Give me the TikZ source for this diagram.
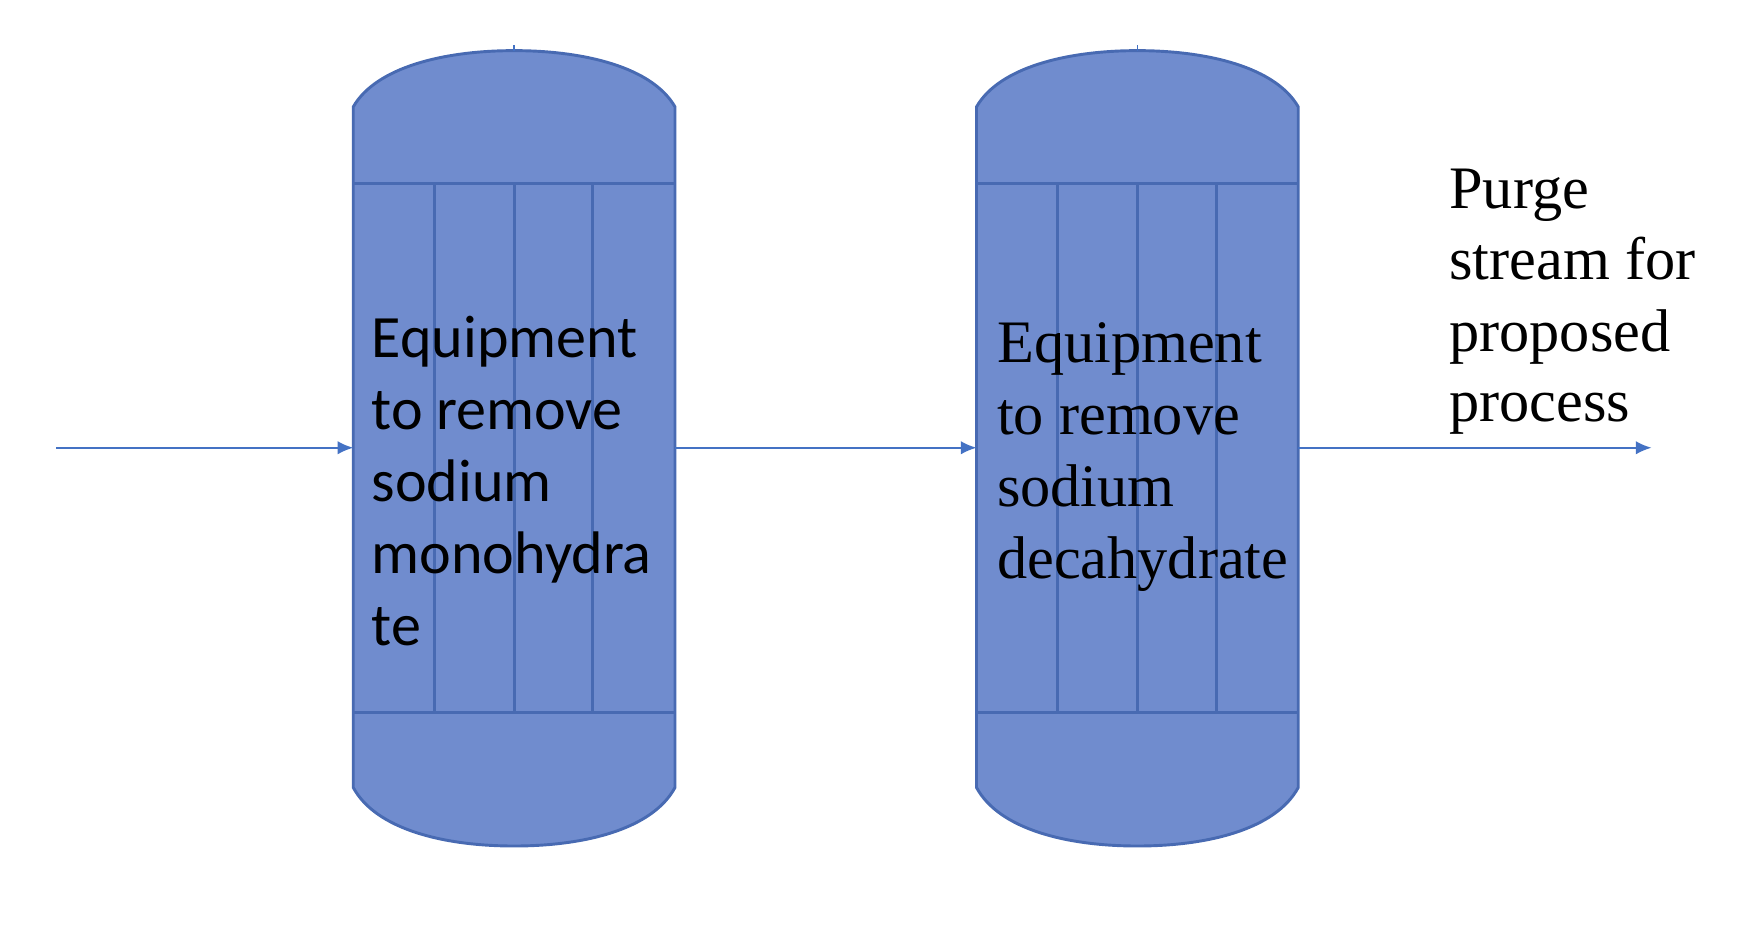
\documentclass[tikz,border=0pt]{standalone}
\usepackage{fontspec}
\usetikzlibrary{arrows.meta}
\setmainfont{Liberation Serif}
\newfontfamily\carlitofont{Carlito}
\begin{document}
\begin{tikzpicture}[x=0.5pt,y=-0.5pt,
  vessel/.style={draw=vline,fill=vfill,line width=1.3pt},
  inner/.style={draw=vline,line width=1.3pt},
  flow/.style={draw=aline,line width=0.8pt,-{Latex[length=7pt,width=6pt]}},
  lbl/.style={anchor=base west,inner sep=0pt}]
\definecolor{vfill}{RGB}{112,140,206}
\definecolor{vline}{RGB}{72,106,178}
\definecolor{aline}{RGB}{68,114,196}
\useasboundingbox (0,0) rectangle (1560,826);
\foreach \n/\x in {v1/314,v2/868}{
  \path[vessel] (\x,95) .. controls (\x+20,60) and (\x+80,45) .. (\x+143,45)
     .. controls (\x+206,45) and (\x+266,60) .. (\x+286,95) -- (\x+286,700)
     .. controls (\x+266,737) and (\x+206,752) .. (\x+143,752)
     .. controls (\x+80,752) and (\x+20,737) .. (\x,700) -- cycle;
  \draw[inner] (\x,163) -- (\x+286,163);
  \draw[inner] (\x,633) -- (\x+286,633);
  \foreach \d in {72,143,213} \draw[inner] (\x+\d,163) -- (\x+\d,633);
  \draw[aline,line width=0.6pt] (\x+143,40) -- (\x+143,45);
  \coordinate (\n w) at (\x,398);
  \coordinate (\n e) at (\x+286,398);
}
\coordinate (in) at (50,398);
\coordinate (out) at (1468,398);
\draw[flow] (in) -- (v1w);
\draw[flow] (v1e) -- (v2w);
\draw[flow] (v2e) -- (out);
\foreach \t/\y [count=\i] in {Equipment/318,to remove/382,sodium/446,monohydra/510,te/574}
  \node[lbl,font=\carlitofont\fontsize{26.7}{32}\selectfont] (a\i) at (330,\y) {\t};
\foreach \t/\y [count=\i] in {Equipment/322,to remove/386,sodium/450,decahydrate/514}
  \node[lbl,font=\fontsize{26.8}{32}\selectfont] (b\i) at (886,\y) {\t};
\foreach \t/\y [count=\i] in {Purge/185,stream for/248,proposed/312,process/375}
  \node[lbl,font=\fontsize{26.8}{32}\selectfont] (c\i) at (1288,\y) {\t};
\end{tikzpicture}
\end{document}
